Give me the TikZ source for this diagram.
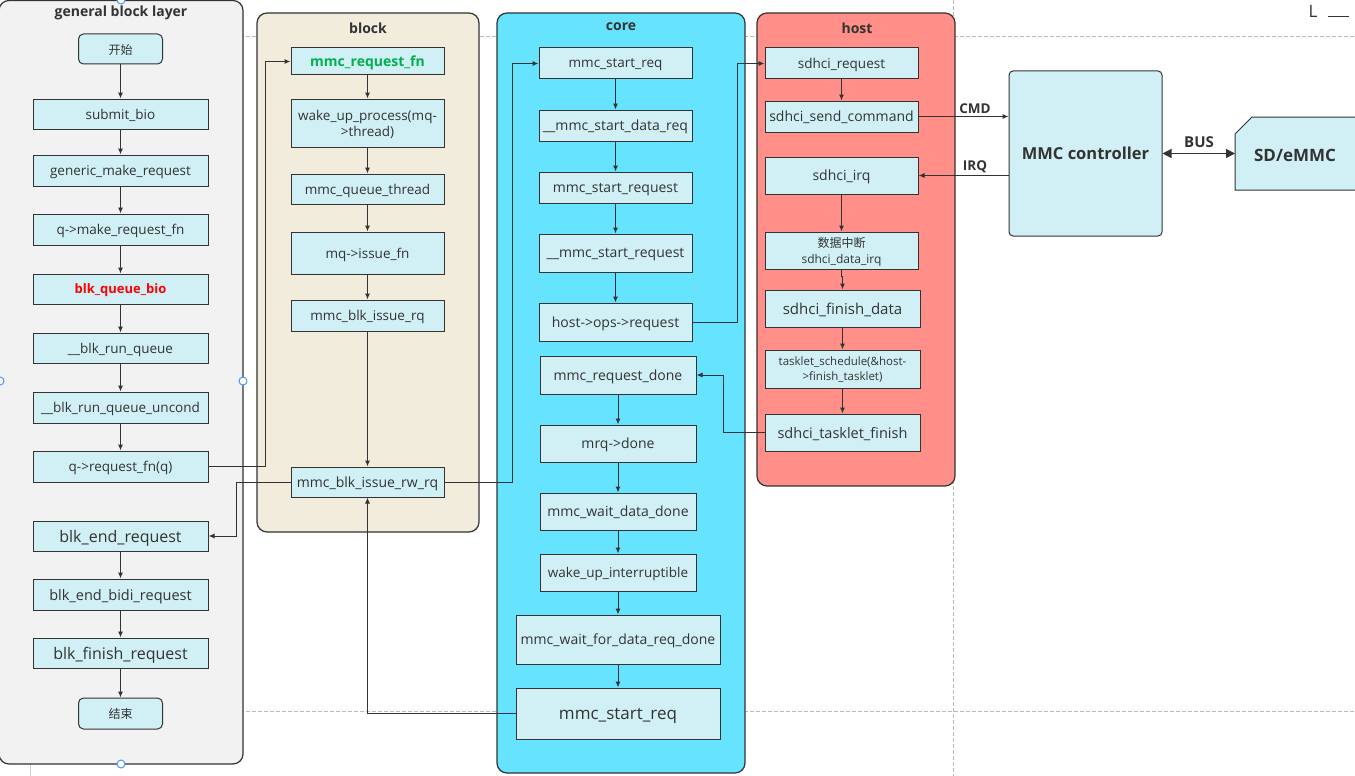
\documentclass[tikz,border=0pt]{standalone}
\usepackage{fontspec}
\setmainfont{Open Sans}
\newfontfamily\cjk{Noto Sans CJK SC}
\usetikzlibrary{arrows.meta,calc}
\definecolor{linec}{HTML}{333333}
\definecolor{boxc}{HTML}{D0F0F6}
\definecolor{gblc}{HTML}{F2F2F2}
\definecolor{blkc}{HTML}{F2ECDC}
\definecolor{corec}{HTML}{66E3FF}
\definecolor{hostc}{HTML}{FF8F88}
\definecolor{guidec}{HTML}{BBBBBB}
\definecolor{handc}{HTML}{4D94FF}
\definecolor{grn}{HTML}{00B050}
\definecolor{redc}{HTML}{FF0000}
\newcommand\fsz[2]{\fontsize{#1}{#2}\selectfont}
\tikzset{
  bx/.style={draw=linec, fill=boxc, line width=1pt, inner sep=1pt, align=center, text=linec, text depth=0pt, font=\fsz{13.5}{16}},
  lc/.style={bx, minimum width=175pt},
  bc/.style={bx, minimum width=153pt},
  cu/.style={bx, minimum width=153pt},
  cl/.style={bx, minimum width=156pt},
  hc/.style={bx, minimum width=153pt},
  hd/.style={bx, minimum width=155pt},
  arr/.style={draw=linec, line width=1pt, -{Latex[length=6pt,width=5pt]}},
  busarr/.style={draw=linec, line width=1.2pt, {Triangle[length=9pt,width=9pt]}-{Triangle[length=9pt,width=9pt]}},
  cont/.style={draw=linec, line width=1.2pt, rounded corners=10pt},
  ttl/.style={text=linec, font=\bfseries\fsz{14}{16}},
  lbl/.style={text=linec, font=\bfseries\fsz{13.5}{16}},
  guide/.style={draw=guidec, line width=0.8pt, dash pattern=on 4pt off 2pt},
  handle/.style={circle, draw=handc, fill=white, line width=1pt, minimum size=8pt, inner sep=0pt}
}
\begin{document}
\begin{tikzpicture}[x=1pt,y=-1pt]
\useasboundingbox (0,0) rectangle (1355,776);
\clip (0,0) rectangle (1355,776);
\fill[white] (0,0) rectangle (1355,776);
% guides
\draw[guide] (0,36) -- (1355,36);
\draw[guide] (0,711) -- (1355,711);
\draw[guide] (953,0) -- (953,776);
\draw[draw=guidec!70, line width=0.8pt] (30,764) -- (30,776);
\node[text=linec, font=\fsz{17}{17}, anchor=base] (lmark) at (1313,18) {L};
\draw[linec, line width=1pt] (1328,17) -- (1349,17);

% containers
\draw[cont, fill=gblc] (-1,0.5) rectangle (243,764);
\draw[cont, fill=blkc] (257,13) rectangle (479,532);
\draw[cont, fill=corec] (497,13) rectangle (745,773);
\draw[cont, fill=hostc] (757,13) rectangle (955,486);
\node[ttl] (tg) at (121,13) {general block layer};
\node[ttl] (tb) at (368,28) {block};
\node[ttl] (tc) at (621,27) {core};
\node[ttl] (th) at (857,28) {host};

% general block layer
\node[bx, rounded corners=5pt, minimum width=84pt, minimum height=30pt, font=\cjk\fsz{12}{14}] (start) at (120.5,49) {开始};
\node[lc, minimum height=30pt] (submit) at (120.5,114) {submit\_bio};
\node[lc, minimum height=31pt] (generic) at (120.5,170.5) {generic\_make\_request};
\node[lc, minimum height=31pt] (makereq) at (120.5,229.5) {q->make\_request\_fn};
\node[lc, minimum height=30pt, text=redc, font=\bfseries\fsz{13}{16}] (qbio) at (120.5,289) {blk\_queue\_bio};
\node[lc, minimum height=30pt] (runq) at (120.5,348) {\_\_blk\_run\_queue};
\node[lc, minimum height=31pt] (uncond) at (120.5,407.5) {\_\_blk\_run\_queue\_uncond};
\node[lc, minimum height=31pt] (reqfn) at (120.5,466.5) {q->request\_fn(q)};
\node[lc, minimum height=30pt, font=\fsz{16}{18}] (endreq) at (120.5,536) {blk\_end\_request};
\node[lc, minimum height=31pt, font=\fsz{14.5}{17}] (bidi) at (120.5,594.5) {blk\_end\_bidi\_request};
\node[lc, minimum height=30pt, font=\fsz{16}{18}] (finreq) at (120.5,653) {blk\_finish\_request};
\node[bx, rounded corners=5pt, minimum width=84pt, minimum height=31pt, font=\cjk\fsz{12}{14}] (fin) at (120.5,713.5) {结束};

\draw[arr] (start) -- (submit);
\draw[arr] (submit) -- (generic);
\draw[arr] (generic) -- (makereq);
\draw[arr] (makereq) -- (qbio);
\draw[arr] (qbio) -- (runq);
\draw[arr] (runq) -- (uncond);
\draw[arr] (uncond) -- (reqfn);
\draw[arr] (endreq) -- (bidi);
\draw[arr] (bidi) -- (finreq);
\draw[arr] (finreq) -- (fin);

% block
\node[bc, minimum height=27pt, text=grn, font=\bfseries\fsz{14}{16}] (mrf) at (367.5,61.5) {mmc\_request\_fn};
\node[bc, minimum height=48pt] (wakeup) at (367.5,123) {wake\_up\_process(mq-\\>thread)};
\node[bc, minimum height=30pt] (mqt) at (367.5,189) {mmc\_queue\_thread};
\node[bc, minimum height=42pt] (issuefn) at (367.5,253) {mq->issue\_fn};
\node[bc, minimum height=31pt] (issuerq) at (367.5,315.5) {mmc\_blk\_issue\_rq};
\node[bc, minimum height=30pt, font=\fsz{14}{16}] (rwrq) at (367.5,482) {mmc\_blk\_issue\_rw\_rq};

\draw[arr] (mrf) -- (wakeup);
\draw[arr] (wakeup) -- (mqt);
\draw[arr] (mqt) -- (issuefn);
\draw[arr] (issuefn) -- (issuerq);
\draw[arr] (issuerq) -- (rwrq);

% core
\node[cu, minimum height=31pt] (sr1) at (615.5,63.5) {mmc\_start\_req};
\node[cu, minimum height=31pt, font=\fsz{14}{16}] (sdr) at (615.5,125.5) {\_\_mmc\_start\_data\_req};
\node[cu, minimum height=31pt, font=\fsz{14}{16}] (sreq) at (615.5,187.5) {mmc\_start\_request};
\node[cu, minimum height=38pt, font=\fsz{14}{16}] (usreq) at (615.5,253) {\_\_mmc\_start\_request};
\node[cu, minimum height=38pt, font=\fsz{14}{16}] (opsreq) at (615.5,322) {host->ops->request};
\node[cl, minimum height=38pt, font=\fsz{14}{16}] (rdone) at (618,375) {mmc\_request\_done};
\node[cl, minimum height=37pt, font=\fsz{14}{16}] (mrqdone) at (618,443.5) {mrq->done};
\node[cl, minimum height=37pt, font=\fsz{14}{16}] (wdd) at (618,511.5) {mmc\_wait\_data\_done};
\node[cl, minimum height=37pt] (wui) at (618,572.5) {wake\_up\_interruptible};
\node[bx, minimum width=204pt, minimum height=49pt, font=\fsz{14}{16}] (wfd) at (618,639.5) {mmc\_wait\_for\_data\_req\_done};
\node[bx, minimum width=204pt, minimum height=51pt, font=\fsz{17}{19}] (sr2) at (618,713.5) {mmc\_start\_req};

\draw[arr] (sr1) -- (sdr);
\draw[arr] (sdr) -- (sreq);
\draw[arr] (sreq) -- (usreq);
\draw[arr] (usreq) -- (opsreq);
\draw[arr] (rdone) -- (mrqdone);
\draw[arr] (mrqdone) -- (wdd);
\draw[arr] (wdd) -- (wui);
\draw[arr] (wui) -- (wfd);
\draw[arr] (wfd) -- (sr2);

% host
\node[hc, minimum height=31pt] (sreqh) at (841.5,63.5) {sdhci\_request};
\node[hc, minimum height=31pt, font=\fsz{14}{16}] (scmd) at (841.5,116.5) {sdhci\_send\_command};
\node[hc, minimum height=37pt, font=\fsz{14}{16}] (sirq) at (841.5,175.5) {sdhci\_irq};
\node[hc, minimum height=37pt, font=\fsz{12}{16}] (dirq) at (841.5,250.5) {{\cjk 数据中断}\\sdhci\_data\_irq};
\node[hd, minimum height=37pt, font=\fsz{15}{17}] (sfd) at (842.5,308.5) {sdhci\_finish\_data};
\node[hd, minimum height=38pt, font=\fsz{11.5}{15}] (tsched) at (842.5,369) {tasklet\_schedule(\&host-\\>finish\_tasklet)};
\node[hd, minimum height=37pt, font=\fsz{14.5}{17}] (stf) at (842.5,432.5) {sdhci\_tasklet\_finish};

\draw[arr] (sreqh) -- (scmd);
\draw[arr] (sirq) -- (dirq);
\draw[arr] (dirq.south) -- ++(0,7) -| (sfd.north);
\draw[arr] (sfd) -- (tsched);
\draw[arr] (tsched) -- (stf);

% right side
\node[bx, rounded corners=4pt, minimum width=153pt, minimum height=165pt, font=\bfseries\fsz{16.5}{18}] (mmc) at (1085.5,153.5) {MMC controller};
\draw[draw=linec, fill=boxc, line width=1pt] (1235,134) -- (1252,117) -- (1360,117) -- (1360,190) -- (1235,190) -- cycle;
\node[text=linec, font=\bfseries\fsz{17}{19}] (sd) at (1295,155) {SD/eMMC};
\coordinate (sdw) at (1235,153.5);

% cross-layer connectors
\draw[arr] (reqfn.east) -- (265,466.5) |- (mrf.west);
\draw[arr] (rwrq.west) -- (236,482) |- (endreq.east);
\draw[arr] (rwrq.east) -- (512,482) |- (sr1.west);
\draw[arr] (sr2.west) -| (rwrq.south);
\draw[arr] (opsreq.east) -- (737,322) |- (sreqh.west);
\draw[arr] (stf.west) -- (723,432.5) |- (rdone.east);
\draw[arr] (scmd.east) -- (scmd.east -| mmc.west);
\draw[arr] (sirq.east -| mmc.west) -- (sirq.east);
\draw[busarr] (mmc.east) -- (sdw);
\node[lbl] (cmdl) at (975,109) {CMD};
\node[lbl] (irql) at (975,167) {IRQ};
\node[lbl, font=\bfseries\fsz{15}{17}] (busl) at (1199,142) {BUS};

% selection handles
\node[handle] (h1) at (121,0) {};
\node[handle] (h2) at (0,381) {};
\node[handle] (h3) at (243,381) {};
\node[handle] (h4) at (121,764) {};
\end{tikzpicture}
\end{document}
